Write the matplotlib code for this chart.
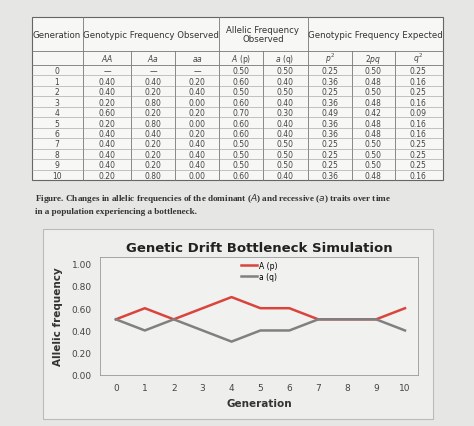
import matplotlib.pyplot as plt

generations = list(range(11))
AA = ["—", "0.40", "0.40", "0.20", "0.60", "0.20", "0.40", "0.40", "0.40", "0.40", "0.20"]
Aa = ["—", "0.40", "0.20", "0.80", "0.20", "0.80", "0.40", "0.20", "0.20", "0.20", "0.80"]
aa = ["—", "0.20", "0.40", "0.00", "0.20", "0.00", "0.20", "0.40", "0.40", "0.40", "0.00"]
p = [0.50, 0.60, 0.50, 0.60, 0.70, 0.60, 0.60, 0.50, 0.50, 0.50, 0.60]
q = [0.50, 0.40, 0.50, 0.40, 0.30, 0.40, 0.40, 0.50, 0.50, 0.50, 0.40]
p2 = [0.25, 0.36, 0.25, 0.36, 0.49, 0.36, 0.36, 0.25, 0.25, 0.25, 0.36]
pq2 = [0.50, 0.48, 0.50, 0.48, 0.42, 0.48, 0.48, 0.50, 0.50, 0.50, 0.48]
q2 = [0.25, 0.16, 0.25, 0.16, 0.09, 0.16, 0.16, 0.25, 0.25, 0.25, 0.16]

W, H = 474, 427
fig = plt.figure(figsize=(W / 100, H / 100), dpi=100, facecolor="#e6e6e4")
# page axes in pixel coords
pg = fig.add_axes([0, 0, 1, 1])
pg.set_xlim(0, W)
pg.set_ylim(H, 0)
pg.axis("off")

# table
left, right, top, hbot, sbot, bot = 32, 443, 18, 52, 66, 181
pg.add_patch(plt.Rectangle((left, top), right - left, bot - top, fc="#f7f7f5", ec="#666", lw=0.8))
vlines = [83, 131, 175, 219, 263, 308, 352, 395]
for x in vlines:
    y0 = top if x in (83, 219, 308) else hbot
    pg.plot([x, x], [y0, bot], color="#777", lw=0.6)
pg.plot([left, right], [hbot, hbot], color="#777", lw=0.6)
pg.plot([left, right], [sbot, sbot], color="#777", lw=0.6)
rh = (bot - sbot) / len(generations)
for i in range(1, len(generations)):
    pg.plot([left, right], [sbot + i * rh, sbot + i * rh], color="#999", lw=0.4)

hfs = 6.2
pg.text(57, 35, "Generation", ha="center", va="center", fontsize=hfs, color="#333")
pg.text(151, 35, "Genotypic Frequency Observed", ha="center", va="center", fontsize=hfs, color="#333")
pg.text(263, 35, "Allelic Frequency\nObserved", ha="center", va="center", fontsize=hfs, color="#333", linespacing=1.1)
pg.text(375, 35, "Genotypic Frequency Expected", ha="center", va="center", fontsize=hfs, color="#333")

centers = [57, 107, 153, 197, 241, 285, 330, 373, 418]
subs = ["", "$AA$", "$Aa$", "$aa$", "$A$ (p)", "$a$ (q)", "$p^2$", "2$pq$", "$q^2$"]
for cx, s in zip(centers, subs):
    pg.text(cx, (hbot + sbot) / 2, s, ha="center", va="center", fontsize=5.5, color="#444")

cols = [generations, AA, Aa, aa,
        [f"{v:.2f}" for v in p], [f"{v:.2f}" for v in q],
        [f"{v:.2f}" for v in p2], [f"{v:.2f}" for v in pq2], [f"{v:.2f}" for v in q2]]
for j, col in enumerate(cols):
    for i, v in enumerate(col):
        pg.text(centers[j], sbot + (i + 0.55) * rh, str(v), ha="center", va="center",
                fontsize=5.5, color="#444")

cap = dict(fontsize=6.6, family="Liberation Serif", weight="bold", color="#333", va="center")
pg.text(35, 199, "Figure. Changes in allelic frequencies of the dominant ($\\mathit{A}$) and recessive ($\\mathit{a}$) traits over time", **cap)
pg.text(35, 212, "in a population experiencing a bottleneck.", **cap)

# chart box
pg.add_patch(plt.Rectangle((43, 230), 390, 190, fc="#eeeeec", ec="#bbb", lw=0.8))

ax = fig.add_axes([100 / W, 1 - 376 / H, 318 / W, 118 / H])
ax.set_facecolor("#f1f1ef")
ax.plot(generations, p, color="#d9453c", lw=1.8, label="A (p)")
ax.plot(generations, q, color="#808080", lw=1.8, label="a (q)")
ax.set_xlim(-0.55, 10.45)
ax.set_ylim(0, 1.06)
ax.set_xticks(generations)
ax.set_yticks([0, 0.2, 0.4, 0.6, 0.8, 1.0])
ax.set_yticklabels([f"{v:.2f}" for v in [0, 0.2, 0.4, 0.6, 0.8, 1.0]])
ax.tick_params(length=0, labelsize=6.5, colors="#444", pad=6)
for s in ax.spines.values():
    s.set_color("#999")
    s.set_linewidth(0.6)
ax.set_title("Genetic Drift Bottleneck Simulation", fontsize=9.5, weight="bold", color="#222", pad=4)
ax.set_xlabel("Generation", fontsize=7.5, weight="bold", color="#333")
ax.set_ylabel("Allelic frequency", fontsize=7.5, weight="bold", color="#333", labelpad=6)
ax.legend(loc="upper center", fontsize=5.5, frameon=False, handlelength=2.2,
          handletextpad=0.2, labelspacing=0.3, borderaxespad=0.1)

fig.savefig("out.png", dpi=100, facecolor=fig.get_facecolor())
